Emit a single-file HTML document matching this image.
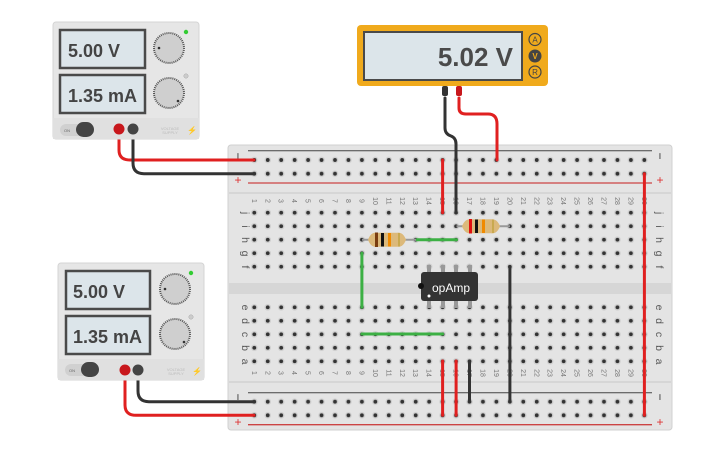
<!DOCTYPE html>
<html><head><meta charset="utf-8"><style>
html,body{margin:0;padding:0;background:#fff;}
svg{display:block;font-family:"Liberation Sans",sans-serif;}
</style></head><body>
<svg width="725" height="453" viewBox="0 0 725 453" xmlns="http://www.w3.org/2000/svg">
<defs>
<pattern id="hT" patternUnits="userSpaceOnUse" x="247.575" y="205.95" width="13.45" height="13.5">
<circle cx="6.725" cy="6.75" r="3.3" fill="#cfcfcf"/><circle cx="6.725" cy="6.75" r="1.9" fill="#333"/></pattern>
<pattern id="hB" patternUnits="userSpaceOnUse" x="247.575" y="300.55" width="13.45" height="13.5">
<circle cx="6.725" cy="6.75" r="3.3" fill="#cfcfcf"/><circle cx="6.725" cy="6.75" r="1.9" fill="#333"/></pattern>
<pattern id="hR1" patternUnits="userSpaceOnUse" x="247.575" y="153.15" width="13.45" height="13.7">
<circle cx="6.725" cy="6.85" r="3.3" fill="#cfcfcf"/><circle cx="6.725" cy="6.85" r="1.9" fill="#333"/></pattern>
<pattern id="hR2" patternUnits="userSpaceOnUse" x="247.575" y="394.9" width="13.45" height="13.6">
<circle cx="6.725" cy="6.8" r="3.3" fill="#cfcfcf"/><circle cx="6.725" cy="6.8" r="1.9" fill="#333"/></pattern>
</defs>

<rect x="228" y="145" width="444" height="285" rx="3" fill="#e4e4e4" stroke="#d0d0d0"/>
<line x1="229" y1="193" x2="671" y2="193" stroke="#d2d2d2" stroke-width="1.5"/>
<line x1="229" y1="382" x2="671" y2="382" stroke="#d2d2d2" stroke-width="1.5"/>
<rect x="229" y="283" width="442" height="11" fill="#d6d6d6"/>
<line x1="248" y1="150.7" x2="652" y2="150.7" stroke="#444" stroke-width="1"/>
<line x1="248" y1="183" x2="652" y2="183" stroke="#c44" stroke-width="1.3"/>
<line x1="248" y1="392.7" x2="652" y2="392.7" stroke="#444" stroke-width="1"/>
<line x1="248" y1="424.7" x2="652" y2="424.7" stroke="#c44" stroke-width="1.3"/>
<g font-size="12" fill="#333" text-anchor="middle">
<text transform="translate(238,156) rotate(90)" dy="4">−</text><text transform="translate(660,156) rotate(90)" dy="4">−</text>
<text x="238" y="184" fill="#d33">+</text><text x="660" y="184" fill="#d33">+</text>
<text transform="translate(238,397) rotate(90)" dy="4">−</text><text transform="translate(660,397) rotate(90)" dy="4">−</text>
<text x="238" y="426" fill="#d33">+</text><text x="660" y="426" fill="#d33">+</text>
</g>
<rect x="247.575" y="153.15" width="403.5" height="27.4" fill="url(#hR1)"/>
<rect x="247.575" y="205.95" width="403.5" height="67.5" fill="url(#hT)"/>
<rect x="247.575" y="300.55" width="403.5" height="67.5" fill="url(#hB)"/>
<rect x="247.575" y="394.9" width="403.5" height="27.2" fill="url(#hR2)"/>

<g font-size="10.5" fill="#555" text-anchor="middle">
<text transform="translate(242,213) rotate(90)">j</text><text transform="translate(242,226.5) rotate(90)">i</text>
<text transform="translate(242,240) rotate(90)">h</text><text transform="translate(242,253.5) rotate(90)">g</text>
<text transform="translate(242,267) rotate(90)">f</text>
<text transform="translate(242,307.5) rotate(90)">e</text><text transform="translate(242,321) rotate(90)">d</text>
<text transform="translate(242,334.5) rotate(90)">c</text><text transform="translate(242,348) rotate(90)">b</text>
<text transform="translate(242,361.5) rotate(90)">a</text>
<text transform="translate(656,213) rotate(90)">j</text><text transform="translate(656,226.5) rotate(90)">i</text>
<text transform="translate(656,240) rotate(90)">h</text><text transform="translate(656,253.5) rotate(90)">g</text>
<text transform="translate(656,267) rotate(90)">f</text>
<text transform="translate(656,307.5) rotate(90)">e</text><text transform="translate(656,321) rotate(90)">d</text>
<text transform="translate(656,334.5) rotate(90)">c</text><text transform="translate(656,348) rotate(90)">b</text>
<text transform="translate(656,361.5) rotate(90)">a</text>
</g>
<g font-size="7" fill="#777" text-anchor="middle">
<text transform="translate(251.8,201) rotate(90)">1</text><text transform="translate(265.3,201) rotate(90)">2</text><text transform="translate(278.7,201) rotate(90)">3</text><text transform="translate(292.2,201) rotate(90)">4</text><text transform="translate(305.6,201) rotate(90)">5</text><text transform="translate(319.1,201) rotate(90)">6</text><text transform="translate(332.5,201) rotate(90)">7</text><text transform="translate(346,201) rotate(90)">8</text><text transform="translate(359.4,201) rotate(90)">9</text><text transform="translate(372.9,201) rotate(90)">10</text><text transform="translate(386.3,201) rotate(90)">11</text><text transform="translate(399.8,201) rotate(90)">12</text><text transform="translate(413.2,201) rotate(90)">13</text><text transform="translate(426.7,201) rotate(90)">14</text><text transform="translate(440.1,201) rotate(90)">15</text><text transform="translate(453.6,201) rotate(90)">16</text><text transform="translate(467,201) rotate(90)">17</text><text transform="translate(480.5,201) rotate(90)">18</text><text transform="translate(493.9,201) rotate(90)">19</text><text transform="translate(507.4,201) rotate(90)">20</text><text transform="translate(520.8,201) rotate(90)">21</text><text transform="translate(534.3,201) rotate(90)">22</text><text transform="translate(547.7,201) rotate(90)">23</text><text transform="translate(561.2,201) rotate(90)">24</text><text transform="translate(574.6,201) rotate(90)">25</text><text transform="translate(588.1,201) rotate(90)">26</text><text transform="translate(601.5,201) rotate(90)">27</text><text transform="translate(615,201) rotate(90)">28</text><text transform="translate(628.4,201) rotate(90)">29</text><text transform="translate(641.9,201) rotate(90)">30</text>
<text transform="translate(251.8,373) rotate(90)">1</text><text transform="translate(265.3,373) rotate(90)">2</text><text transform="translate(278.7,373) rotate(90)">3</text><text transform="translate(292.2,373) rotate(90)">4</text><text transform="translate(305.6,373) rotate(90)">5</text><text transform="translate(319.1,373) rotate(90)">6</text><text transform="translate(332.5,373) rotate(90)">7</text><text transform="translate(346,373) rotate(90)">8</text><text transform="translate(359.4,373) rotate(90)">9</text><text transform="translate(372.9,373) rotate(90)">10</text><text transform="translate(386.3,373) rotate(90)">11</text><text transform="translate(399.8,373) rotate(90)">12</text><text transform="translate(413.2,373) rotate(90)">13</text><text transform="translate(426.7,373) rotate(90)">14</text><text transform="translate(440.1,373) rotate(90)">15</text><text transform="translate(453.6,373) rotate(90)">16</text><text transform="translate(467,373) rotate(90)">17</text><text transform="translate(480.5,373) rotate(90)">18</text><text transform="translate(493.9,373) rotate(90)">19</text><text transform="translate(507.4,373) rotate(90)">20</text><text transform="translate(520.8,373) rotate(90)">21</text><text transform="translate(534.3,373) rotate(90)">22</text><text transform="translate(547.7,373) rotate(90)">23</text><text transform="translate(561.2,373) rotate(90)">24</text><text transform="translate(574.6,373) rotate(90)">25</text><text transform="translate(588.1,373) rotate(90)">26</text><text transform="translate(601.5,373) rotate(90)">27</text><text transform="translate(615,373) rotate(90)">28</text><text transform="translate(628.4,373) rotate(90)">29</text><text transform="translate(641.9,373) rotate(90)">30</text>
</g>

<g fill="#999">
<rect x="427" y="265" width="4" height="8"/><rect x="441" y="265" width="4" height="8"/><rect x="454" y="265" width="4" height="8"/><rect x="468" y="265" width="4" height="8"/>
<rect x="427" y="300" width="4" height="8"/><rect x="441" y="300" width="4" height="8"/><rect x="454" y="300" width="4" height="8"/><rect x="468" y="300" width="4" height="8"/>
</g>
<rect x="421" y="272" width="57" height="29" rx="3" fill="#333"/>
<circle cx="421" cy="286" r="3" fill="#111"/>
<circle cx="429" cy="296" r="1.5" fill="#fff"/>
<text x="432" y="292" font-size="12" fill="#fff">opAmp</text>

<g stroke="#3cb044" stroke-width="3" stroke-linecap="round" fill="none">
<line x1="416.7" y1="239.7" x2="456.5" y2="239.7"/>
<line x1="361.9" y1="253.3" x2="361.9" y2="307.3"/>
<line x1="361.9" y1="334" x2="442.6" y2="334"/>
</g>
<g>
<line x1="362" y1="239.7" x2="416" y2="239.7" stroke="#999" stroke-width="2"/>
<path d="M368,239.7 q3,-8 9,-7 h20 q6,-1 9,7 q-3,8 -9,7 h-20 q-6,1 -9,-7z" fill="#dcb97a"/>
<rect x="375" y="232.5" width="3" height="14.5" fill="#7a3d10"/><rect x="381" y="233" width="3" height="13.5" fill="#111"/><rect x="388" y="233" width="3" height="13.5" fill="#f08a00"/><rect x="398" y="233" width="2" height="13.5" fill="#c9a94f"/>
<line x1="456.5" y1="226.3" x2="510" y2="226.3" stroke="#999" stroke-width="2"/>
<path d="M462,226.3 q3,-8 9,-7 h20 q6,-1 9,7 q-3,8 -9,7 h-20 q-6,1 -9,-7z" fill="#dcb97a"/>
<rect x="469" y="219" width="3" height="14.5" fill="#e01010"/><rect x="475" y="219.5" width="3" height="13.5" fill="#111"/><rect x="482" y="219.5" width="3" height="13.5" fill="#f08a00"/><rect x="492" y="219.5" width="2" height="13.5" fill="#c9a94f"/>
</g>

<g stroke-width="3" stroke-linecap="round" fill="none">
<line x1="442.6" y1="160" x2="442.6" y2="212.7" stroke="#e02020"/>
<line x1="509.9" y1="266.7" x2="509.9" y2="401.7" stroke="#333"/>
<line x1="442.6" y1="361" x2="442.6" y2="415.3" stroke="#e02020"/>
<line x1="456.1" y1="361" x2="456.1" y2="415.3" stroke="#e02020"/>
<line x1="469.5" y1="361" x2="469.5" y2="401.7" stroke="#333"/>
<line x1="644.4" y1="173.7" x2="644.4" y2="415.3" stroke="#e02020"/>
<path d="M445,98 V128 Q445,134 451,136 Q456,138 456,144 V212.7" stroke="#333"/>
<path d="M459,98 V108 Q459,114 466,114 H488 Q497,114 497,124 V160" stroke="#e02020"/>
<path d="M119,129 V150 Q119,160 130,160 H254" stroke="#e02020"/>
<path d="M133,129 V163 Q133,173.7 144,173.7 H254" stroke="#333"/>
<path d="M125,370 V405 Q125,415.3 136,415.3 H254" stroke="#e02020"/>
<path d="M138,370 V391 Q138,401.7 149,401.7 H254" stroke="#333"/>
</g>

<g>
<rect x="53" y="22" width="146" height="117" rx="3" fill="#e6e6e6" stroke="#d4d4d4"/>
<rect x="53" y="118" width="146" height="21" fill="#e0e0e0"/>
<rect x="60" y="30" width="85" height="38" fill="#dce5ea" stroke="#4a4a4a" stroke-width="2.5"/>
<rect x="60" y="75" width="85" height="38" fill="#dce5ea" stroke="#4a4a4a" stroke-width="2.5"/>
<text x="68" y="57" font-size="18" font-weight="bold" fill="#444">5.00 V</text>
<text x="68" y="102" font-size="18" font-weight="bold" fill="#444">1.35 mA</text>
<circle cx="169" cy="48" r="15" fill="#cfcfcf" stroke="#555" stroke-width="2" stroke-dasharray="1 1"/>
<circle cx="159" cy="48" r="1.3" fill="#333"/>
<circle cx="169" cy="93" r="15" fill="#cfcfcf" stroke="#555" stroke-width="2" stroke-dasharray="1 1"/>
<circle cx="178" cy="101" r="1.3" fill="#333"/>
<circle cx="186" cy="32" r="2.2" fill="#3c3"/>
<circle cx="186" cy="76" r="2.2" fill="#ccc" stroke="#aaa" stroke-width=".5"/>
<rect x="60" y="124" width="34" height="12" rx="6" fill="#d0d0d0"/>
<text x="64" y="132" font-size="4" fill="#666">ON</text>
<rect x="76" y="122" width="18" height="15" rx="7.5" fill="#444"/>
<circle cx="119" cy="129" r="5.5" fill="#c8171c"/>
<circle cx="133" cy="129" r="5.5" fill="#444"/>
<text x="170" y="130" font-size="4" fill="#bbb" text-anchor="middle">VOLTAGE</text>
<text x="170" y="134" font-size="4" fill="#bbb" text-anchor="middle">SUPPLY</text>
<text x="187" y="133" font-size="8" fill="#ccc">⚡</text>
</g>

<g>
<rect x="58" y="263" width="146" height="117" rx="3" fill="#e6e6e6" stroke="#d4d4d4"/>
<rect x="58" y="359" width="146" height="21" fill="#e0e0e0"/>
<rect x="66" y="271" width="84" height="38" fill="#dce5ea" stroke="#4a4a4a" stroke-width="2.5"/>
<rect x="66" y="316" width="84" height="38" fill="#dce5ea" stroke="#4a4a4a" stroke-width="2.5"/>
<text x="73" y="298" font-size="18" font-weight="bold" fill="#444">5.00 V</text>
<text x="73" y="343" font-size="18" font-weight="bold" fill="#444">1.35 mA</text>
<circle cx="175" cy="289" r="15" fill="#cfcfcf" stroke="#555" stroke-width="2" stroke-dasharray="1 1"/>
<circle cx="165" cy="289" r="1.3" fill="#333"/>
<circle cx="175" cy="334" r="15" fill="#cfcfcf" stroke="#555" stroke-width="2" stroke-dasharray="1 1"/>
<circle cx="184" cy="342" r="1.3" fill="#333"/>
<circle cx="191" cy="273" r="2.2" fill="#3c3"/>
<circle cx="191" cy="317" r="2.2" fill="#ccc" stroke="#aaa" stroke-width=".5"/>
<rect x="65" y="364" width="34" height="12" rx="6" fill="#d0d0d0"/>
<text x="69" y="372" font-size="4" fill="#666">ON</text>
<rect x="81" y="362" width="18" height="15" rx="7.5" fill="#444"/>
<circle cx="125" cy="370" r="5.5" fill="#c8171c"/>
<circle cx="138" cy="370" r="5.5" fill="#444"/>
<text x="176" y="371" font-size="4" fill="#bbb" text-anchor="middle">VOLTAGE</text>
<text x="176" y="375" font-size="4" fill="#bbb" text-anchor="middle">SUPPLY</text>
<text x="192" y="374" font-size="8" fill="#ccc">⚡</text>
</g>

<g>
<rect x="357" y="25" width="191" height="61" rx="4" fill="#f0aa1c"/>
<rect x="364" y="32" width="158" height="48" fill="#dce5ea" stroke="#4a4a4a" stroke-width="2"/>
<text x="513" y="66" font-size="26" font-weight="bold" fill="#4a4a4a" text-anchor="end">5.02 V</text>
<circle cx="535" cy="39.5" r="6" fill="none" stroke="#444" stroke-width="1.2"/>
<text x="535" y="42.5" font-size="8" fill="#444" text-anchor="middle">A</text>
<circle cx="535" cy="56" r="6.5" fill="#444"/>
<text x="535" y="59" font-size="8" fill="#f0aa1c" text-anchor="middle" font-weight="bold">V</text>
<circle cx="535" cy="72" r="6" fill="none" stroke="#444" stroke-width="1.2"/>
<text x="535" y="75" font-size="8" fill="#444" text-anchor="middle">R</text>
<rect x="442" y="86" width="6" height="10" rx="2" fill="#333"/>
<rect x="456" y="86" width="6" height="10" rx="2" fill="#c8171c"/>
</g>
</svg>
</body></html>
